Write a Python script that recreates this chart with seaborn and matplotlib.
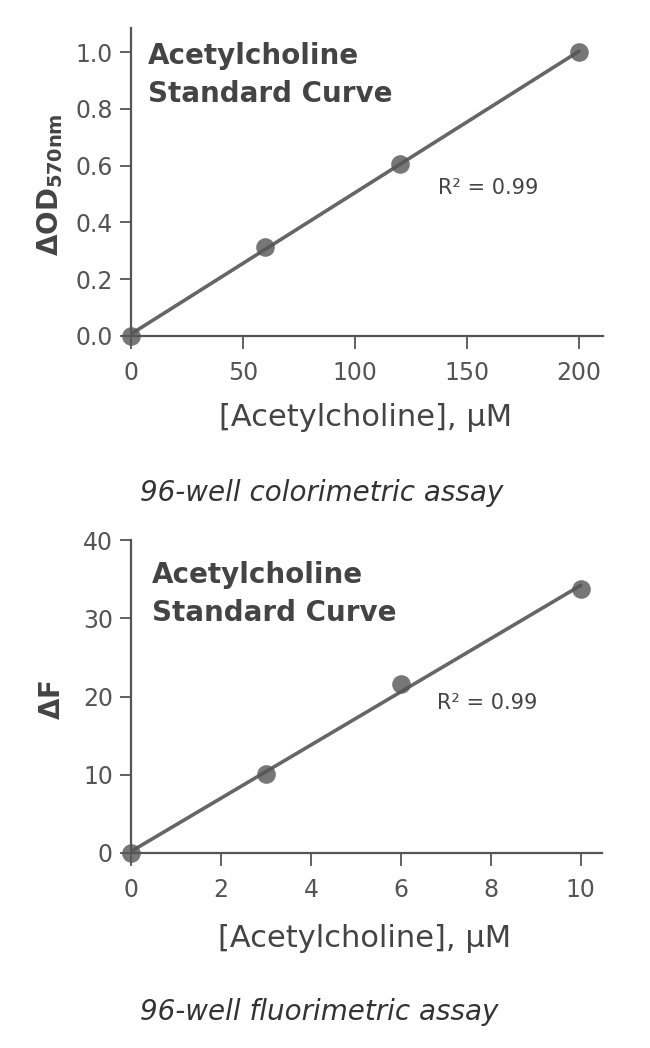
import numpy as np
import pandas as pd
import seaborn as sns
import matplotlib
matplotlib.use('Agg')
import matplotlib.pyplot as plt

# Data
colorimetric_conc = [0, 60, 120, 200]
colorimetric_od = [0.0, 0.315, 0.605, 1.0]
fluorimetric_conc = [0, 3, 6, 10]
fluorimetric_df = [0.0, 10.1, 21.6, 33.7]

od_ticks = [0.0, 0.2, 0.4, 0.6, 0.8, 1.0]
od_conc_ticks = [0, 50, 100, 150, 200]
df_ticks = [0, 10, 20, 30, 40]
df_conc_ticks = [0, 2, 4, 6, 8, 10]

sns.set_style('ticks')
plt.rcParams['font.family'] = ['DejaVu Sans']
plt.rcParams['mathtext.default'] = 'regular'

line_col = '#666666'
dot_col = '#555555'
axis_col = '#555555'
text_col = '#444444'

fig = plt.figure(figsize=(6.5, 10.48), dpi=100)
ax1 = fig.add_axes([0.2015, 0.6794, 0.7262, 0.2939])
ax2 = fig.add_axes([0.2015, 0.1861, 0.7246, 0.2986])

panels = [
    (ax1, colorimetric_conc, colorimetric_od, od_conc_ticks, od_ticks, (0, 210.7), (0, 1.085),
     r'$\Delta$OD$_{570nm}$', '%.1f'),
    (ax2, fluorimetric_conc, fluorimetric_df, df_conc_ticks, df_ticks, (0, 10.47), (0, 40),
     r'$\Delta$F', '%d'),
]

for ax, xs, ys, xt, yt, xl, yl, ylab, fmt in panels:
    df = pd.DataFrame({'conc': xs, 'signal': ys})
    sns.regplot(data=df, x='conc', y='signal', ax=ax, ci=None,
                scatter_kws=dict(s=180, color=dot_col, clip_on=False, zorder=4, linewidths=0),
                line_kws=dict(color=line_col, lw=2.6, zorder=3))
    ax.set_xlim(*xl)
    ax.set_ylim(*yl)
    ax.set_xticks(xt)
    ax.set_yticks(yt)
    ax.set_yticklabels([fmt % v for v in yt])
    sns.despine(ax=ax)
    for s in ['left', 'bottom']:
        ax.spines[s].set_color(axis_col)
        ax.spines[s].set_linewidth(1.6)
    ax.tick_params(axis='both', direction='out', length=8, width=1.3, color=axis_col,
                   labelsize=17, labelcolor='#555555')
    ax.tick_params(axis='y', pad=5)
    ax.tick_params(axis='x', pad=9, length=9)
    ax.set_xlabel('[Acetylcholine], µM', fontsize=22, color=text_col)
    ax.set_ylabel(ylab, fontsize=20, fontweight='bold', color=text_col)
    ax.text(0.65, 0.48, 'R² = 0.99', transform=ax.transAxes, fontsize=15,
            color=text_col, va='center', ha='left')

ax1.xaxis.set_label_coords(0.496, -0.266)
ax1.xaxis.label.set_va('center')
ax1.yaxis.set_label_coords(-0.172, 0.49)
ax1.yaxis.label.set_va('center')
ax2.xaxis.set_label_coords(0.496, -0.272)
ax2.xaxis.label.set_va('center')
ax2.yaxis.set_label_coords(-0.167, 0.489)
ax2.yaxis.label.set_va('center')

ax1.text(0.036, 0.847, 'Acetylcholine\nStandard Curve', transform=ax1.transAxes,
         fontsize=20, fontweight='bold', color=text_col, va='center', ha='left', linespacing=1.45)
ax2.text(0.045, 0.827, 'Acetylcholine\nStandard Curve', transform=ax2.transAxes,
         fontsize=20, fontweight='bold', color=text_col, va='center', ha='left', linespacing=1.45)

fig.text(0.215, 1 - 493 / 1048, '96-well colorimetric assay', fontsize=20, style='italic',
         color='#333333', ha='left', va='center')
fig.text(0.215, 1 - 1012 / 1048, '96-well fluorimetric assay', fontsize=20, style='italic',
         color='#333333', ha='left', va='center')

fig.savefig('out.png', dpi=100, facecolor='white')
